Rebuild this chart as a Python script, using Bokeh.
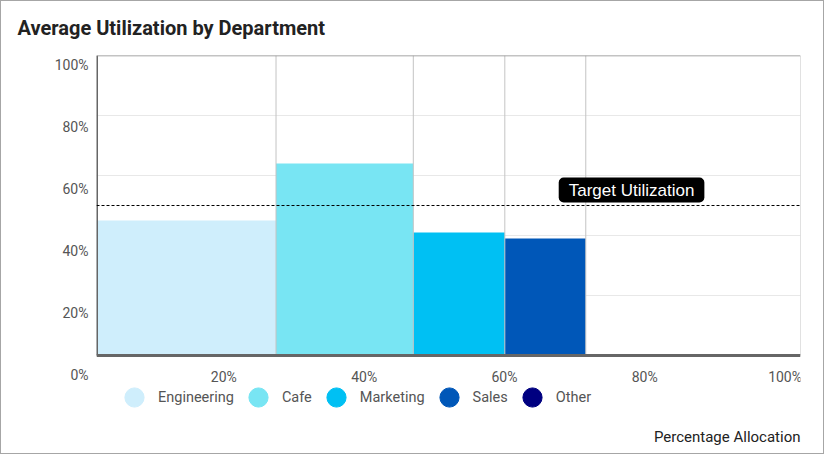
import numpy as np
from bokeh.plotting import figure
from bokeh.models import (Range1d, FixedTicker, Span, Label, Legend, LegendItem,
                          Title, PrintfTickFormatter, ColumnDataSource, LinearAxis, Grid)
from bokeh.embed import file_html
from bokeh.resources import INLINE

# ---- data ----
departments = ["Engineering", "Cafe", "Marketing", "Sales", "Other"]
allocation = [25.5, 19.5, 13.0, 11.5, 30.5]      # share of x axis (%)
utilization = [45, 64, 41, 39, 0]                # average utilization (%)
colors = ["#CFEEFC", "#78E5F3", "#00C0F3", "#0057B8", "#000080"]
target_utilization = 50
tick_values = [0, 20, 40, 60, 80, 100]

right = np.cumsum(allocation)
left = right - np.array(allocation)

src = ColumnDataSource(dict(left=left, right=right, top=utilization,
                            bottom=[0] * len(departments), color=colors,
                            dept=departments, ytop=[100] * len(departments)))

p = figure(width=824, height=454, output_backend="svg", toolbar_location=None,
           x_range=Range1d(0, 100), y_range=Range1d(-23, 100),
           x_axis_location=None, y_axis_location=None,
           min_border_left=95, min_border_right=25, min_border_top=54,
           min_border_bottom=31)
p.styles = {"border": "1px solid #a6a6a6"}
p.outline_line_color = None
p.background_fill_color = "white"
p.border_fill_color = "white"
for g in p.grid:
    g.visible = False
p.extra_x_ranges = {"xlab": Range1d(1.849, 102.2)}
p.extra_y_ranges = {"ylab": Range1d(-16.07, 103.23)}

p.title.text = "Average Utilization by Department"
p.title.text_font = "Roboto"
p.title.text_font_size = "20px"
p.title.text_font_style = "bold"
p.title.text_color = "#222222"
p.title.offset = -79
p.title.vertical_align = "top"
p.title.standoff = 28

# horizontal grid (under bars)
p.add_layout(Grid(dimension=1, ticker=FixedTicker(ticks=tick_values),
                  grid_line_color="#e8e8e8"))

p.quad(left="left", right="right", bottom="bottom", top="top", source=src,
       fill_color="color", line_color=None)
# category boundary lines
p.segment(x0="right", y0="bottom", x1="right", y1="ytop", source=src,
          line_color="#c4c4c4", line_width=1)

label_style = dict(major_label_text_font="Roboto", major_label_text_font_size="14px",
                   major_label_text_color="#555555", major_tick_line_color=None,
                   minor_tick_line_color=None, major_tick_in=0, major_tick_out=0)

# y axis: line at x=0 from 0 to 100
p.add_layout(LinearAxis(fixed_location=0, bounds=(0, 100), ticker=FixedTicker(ticks=[]),
                        axis_line_color="#666666", axis_line_width=3,
                        major_label_text_font_size="0px", major_tick_line_color=None,
                        minor_tick_line_color=None), "left")
# y tick labels
p.add_layout(LinearAxis(y_range_name="ylab", ticker=FixedTicker(ticks=tick_values),
                        formatter=PrintfTickFormatter(format="%d%%"),
                        axis_line_color=None, major_label_standoff=8, **label_style), "left")
# x axis with labels
p.add_layout(LinearAxis(x_range_name="xlab", fixed_location=0,
                        ticker=FixedTicker(ticks=tick_values),
                        formatter=PrintfTickFormatter(format="%d%%"),
                        axis_line_color="#666666", axis_line_width=3,
                        major_label_standoff=13, **label_style), "below")

p.add_layout(Span(location=100, dimension="width", line_color="#888888", line_width=1.5))

# target line
p.add_layout(Span(location=target_utilization, dimension="width", line_color="black",
                  line_width=1, line_dash="3 2"))
p.add_layout(Label(x=76, y=target_utilization, y_offset=3, text="Target Utilization",
                   text_align="center", text_baseline="bottom", text_color="white",
                   text_font="Liberation Sans", text_font_size="17px",
                   background_fill_color="black", border_radius=5,
                   padding=dict(left=10, right=10, top=3, bottom=3)))

# legend
items = []
for d, c in zip(departments, colors):
    r = p.scatter(x=[np.nan], y=[np.nan], size=19, marker="circle", fill_color=c, line_color=c)
    items.append(LegendItem(label=d, renderers=[r]))
legend = Legend(items=items, orientation="horizontal", location=(14, 3),
                glyph_width=48, glyph_height=48, label_standoff=0, spacing=0,
                padding=0, margin=0, border_line_color=None, background_fill_alpha=0,
                label_text_font="Roboto", label_text_font_size="14.5px",
                label_text_color="#555555")
p.add_layout(legend)

p.add_layout(Title(text="Percentage Allocation", align="right", text_font="Roboto",
                   text_font_size="15px", text_font_style="normal", text_color="#222222",
                   standoff=2), "below")

open("out.html", "w").write(file_html(p, INLINE))
